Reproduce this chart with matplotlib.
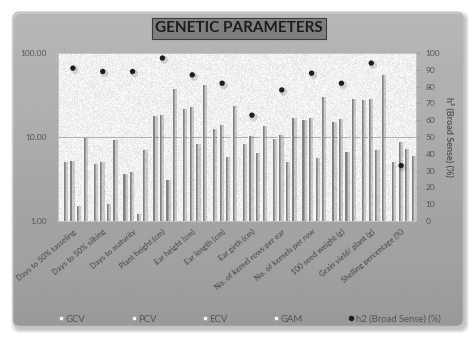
import numpy as np
import matplotlib
matplotlib.use("Agg")
import matplotlib.pyplot as plt
from matplotlib.patches import FancyBboxPatch
from matplotlib.lines import Line2D

plt.rcParams["font.family"] = ["Lato", "DejaVu Sans"]

traits = [
    "Days to 50% tasseling", "Days to 50% silking", "Days to maturity",
    "Plant height (cm)", "Ear height (cm)", "Ear length (cm)", "Ear girth (cm)",
    "No. of kernel rows per ear", "No. of kernels per row",
    "100 seed weight (g)", "Grain yield/ plant (g)", "Shelling percentage (%)",
]
gcv = [5.0, 4.8, 3.6, 17.9, 21.5, 12.4, 8.3, 9.4, 15.9, 15.0, 27.6, 5.0]
pcv = [5.2, 5.0, 3.8, 18.3, 23.0, 13.9, 10.4, 10.6, 16.7, 16.4, 28.1, 8.8]
ecv = [1.5, 1.6, 1.2, 3.1, 8.3, 5.8, 6.4, 5.0, 5.7, 6.7, 7.0, 7.2]
gam = [9.6, 9.2, 7.0, 37.3, 41.6, 23.6, 13.6, 17.0, 30.2, 28.1, 54.7, 5.9]
h2 = [91, 89, 89, 97, 87, 82, 63, 78, 88, 82, 94, 33]

series = [("GCV", gcv), ("PCV", pcv), ("ECV", ecv), ("GAM", gam)]
text_col = "#555555"

fig = plt.figure(figsize=(4.74, 3.39), dpi=100)
fig.patch.set_facecolor("white")

# rounded grey panel with a soft drop shadow
bg = fig.add_axes([0, 0, 1, 1], zorder=-5)
bg.set_xlim(0, 474)
bg.set_ylim(339, 0)
bg.axis("off")
for k, a in enumerate([0.05, 0.05, 0.06, 0.08]):
    grow = 4 - k
    bg.add_patch(FancyBboxPatch((13 + 2 - grow, 12 + 3 - grow), 450 + 2 * grow, 314 + 2 * grow,
                                boxstyle="round,pad=0,rounding_size=8",
                                fc="black", ec="none", alpha=a))
panel = FancyBboxPatch((13, 12), 450, 314, boxstyle="round,pad=0,rounding_size=7",
                       fc="none", ec="#b5b5b5", lw=0.6)
bg.add_patch(panel)
grad = np.linspace(0.93, 0.78, 200)[:, None] * np.ones((1, 10))
im = bg.imshow(grad, extent=[13, 463, 326, 12], cmap="gray", vmin=0, vmax=1,
               aspect="auto", interpolation="bilinear")
im.set_clip_path(panel)

pos = [58 / 474, 1 - 221 / 339, 358 / 474, 168 / 339]

# speckled plot-area fill
tex = fig.add_axes(pos, zorder=0)
rng = np.random.default_rng(7)
speck = 0.89 + 0.10 * rng.random((168, 358))
tex.imshow(speck, cmap="gray", vmin=0, vmax=1, aspect="auto", interpolation="nearest")
tex.axis("off")

ax = fig.add_axes(pos, zorder=1)
ax.patch.set_visible(False)
ax.set_yscale("log")
ax.set_ylim(1, 100)
ax.set_xlim(0, len(traits))

# thin cylinder-like bars: shadow, body, highlight
x = np.arange(len(traits))
for i, (name, vals) in enumerate(series):
    xs = x + 0.5 + (i - 1.5) * 0.22 + 0.04
    h = np.array(vals) - 1
    ax.bar(xs + 0.08, h, width=0.1, bottom=1, color="black", alpha=0.16, zorder=2)
    ax.bar(xs, h, width=0.11, bottom=1, color="#808080", zorder=3)
    ax.bar(xs - 0.035, h, width=0.04, bottom=1, color="#f4f4f4", zorder=4)
    ax.bar(xs + 0.04, h, width=0.03, bottom=1, color="#9e9e9e", zorder=4)

ax.set_yticks([1, 10, 100])
ax.set_yticklabels(["1.00", "10.00", "100.00"])
ax.yaxis.set_minor_locator(matplotlib.ticker.NullLocator())
ax.tick_params(axis="y", length=0, labelsize=6, labelcolor=text_col, pad=8)
ax.axhline(10, color="#b0b0b0", lw=0.7, zorder=1)

ax.set_xticks(x + 0.5)
ax.set_xticklabels(traits, rotation=40, ha="right", rotation_mode="anchor",
                   fontsize=5.6, color="#444444")
ax.tick_params(axis="x", length=0, pad=5)
for s in ax.spines.values():
    s.set_color("#c4c4c4")
    s.set_linewidth(0.7)

ax2 = ax.twinx()
ax2.set_zorder(2)
ax2.patch.set_visible(False)
ax2.set_ylim(0, 100)
ax2.set_yticks(range(0, 101, 10))
ax2.tick_params(axis="y", length=3, color="#a0a0a0", labelsize=6, labelcolor=text_col, pad=4)
for s in ax2.spines.values():
    s.set_visible(False)
ax2.scatter(x + 0.56, np.array(h2) - 1.2, s=32, color="black", alpha=0.13,
            edgecolors="none", zorder=3)
ax2.scatter(x + 0.5, h2, s=15, color="#1e1e1e", edgecolors="none", zorder=4)
ax2.set_ylabel("h² (Broad Sense) (%)", rotation=270, labelpad=10, fontsize=6.5,
               fontweight="bold", color=text_col)

fig.text(0.504, 1 - 28.5 / 339, "GENETIC PARAMETERS", ha="center", va="center",
         fontsize=11, fontweight="bold", color="#1c1c1c",
         bbox=dict(boxstyle="square,pad=0.22", fc="#7f7f7f", ec="#3c3c3c", lw=0.8))

handles = [Line2D([], [], marker="s", ls="none", ms=3, mfc="#f4f4f4", mec="#9a9a9a",
                  mew=0.5, label=name) for name, _ in series]
handles.append(Line2D([], [], marker="o", ls="none", ms=4, mfc="#1e1e1e", mec="none",
                      label="h2 (Broad Sense) (%)"))
fig.legend(handles=handles, loc="center", bbox_to_anchor=(0.525, 1 - 319 / 339),
           ncol=5, frameon=False, fontsize=6.8, labelcolor=text_col,
           handletextpad=0.1, columnspacing=4.7, handlelength=0.8)

fig.savefig("out.png", dpi=100)
